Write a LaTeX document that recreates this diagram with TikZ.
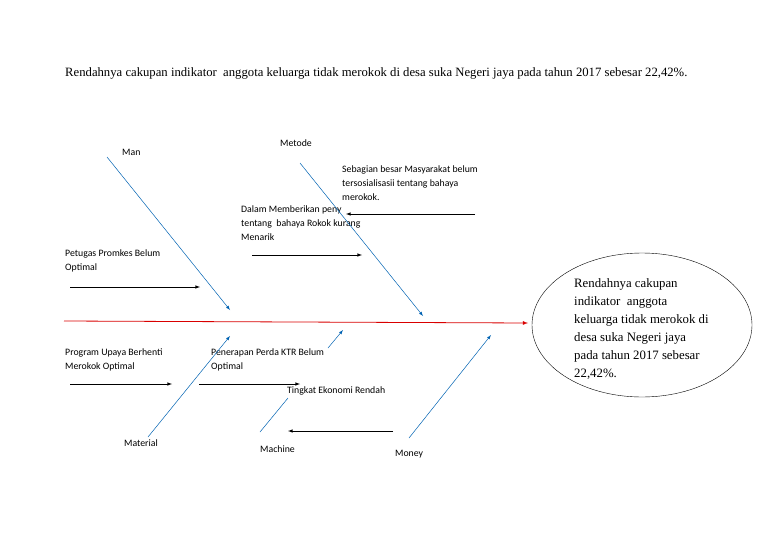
\documentclass[tikz,border=0pt]{standalone}
\usepackage{fontspec}
\usetikzlibrary{shapes.geometric}
\setmainfont{Liberation Serif}
\newfontfamily\lblfont{Carlito}
\begin{document}
\begin{tikzpicture}[x=1pt,y=-1pt,
  lbl/.style={anchor=west,inner sep=0pt,font=\lblfont\fontsize{9.8}{14}\selectfont,align=left},
  bone/.style={draw=blue!45!cyan!70!black,line width=0.5pt,-latex},
  cause/.style={draw=black,line width=0.6pt,-latex}]
\useasboundingbox (0,0) rectangle (768,543);
\node[anchor=west,inner sep=0pt,font=\fontsize{12.7}{14}\selectfont] (title) at (65,73) {Rendahnya cakupan indikator\ \ anggota keluarga tidak merokok di desa suka Negeri jaya pada tahun 2017 sebesar 22,42\%.};
\node[draw,ellipse,minimum width=220,minimum height=144,inner sep=0pt] (eff) at (642,325) {};
\node[anchor=north west,inner sep=0pt,align=left,font=\fontsize{12.8}{18}\selectfont] (efft) at (574,278) {Rendahnya cakupan\\indikator\ \ anggota\\keluarga tidak merokok di\\desa suka Negeri jaya\\pada tahun 2017 sebesar\\22,42\%.};
\coordinate (s) at (64,321);
\coordinate (h) at (528,323);
\draw[red!85!black,line width=0.8pt,-latex] (s) -- (h);
% labels
\node[lbl] (man) at (122,152) {Man};
\node[lbl] (met) at (280,143) {Metode};
\node[lbl] (mat) at (124,443) {Material};
\node[lbl] (mac) at (260,449) {Machine};
\node[lbl] (mon) at (395,454) {Money};
\node[lbl] (c1) at (65,261) {Petugas Promkes Belum\\Optimal};
\node[lbl] (c2) at (241,223) {Dalam Memberikan peny\\tentang\ \ bahaya Rokok kurang\\Menarik};
\node[lbl] (c3) at (342,183) {Sebagian besar Masyarakat belum\\tersosialisasii tentang bahaya\\merokok.};
\node[lbl] (c4) at (65,360) {Program Upaya Berhenti\\Merokok Optimal};
\node[lbl] (c5) at (211,360) {Penerapan Perda KTR Belum\\Optimal};
\node[lbl] (c6) at (287,391) {Tingkat Ekonomi Rendah};
% bones
\coordinate (b1a) at (107,157); \coordinate (b1b) at (230,310);
\coordinate (b2a) at (300,163); \coordinate (b2b) at (423,316);
\coordinate (b3a) at (148,437); \coordinate (b3b) at (230,336);
\coordinate (b4a) at (260,432); \coordinate (b4b) at (288,398);
\coordinate (b5a) at (328,348); \coordinate (b5b) at (343,330);
\coordinate (b6a) at (409,438); \coordinate (b6b) at (491,335);
\draw[bone] (b1a) -- (b1b);
\draw[bone] (b2a) -- (b2b);
\draw[bone] (b3a) -- (b3b);
\draw[bone,-] (b4a) -- (b4b);
\draw[bone] (b5a) -- (b5b);
\draw[bone] (b6a) -- (b6b);
% cause arrows
\coordinate (p1) at (70,287); \coordinate (q1) at (200,287);
\coordinate (p2) at (252,255); \coordinate (q2) at (362,255);
\coordinate (p3) at (475,214); \coordinate (q3) at (346,214);
\coordinate (p4) at (70,384); \coordinate (q4) at (172,384);
\coordinate (p5) at (199,384); \coordinate (q5) at (300,384);
\coordinate (p6) at (393,431); \coordinate (q6) at (288,431);
\foreach \i in {1,...,6} {\draw[cause] (p\i) -- (q\i);}
\end{tikzpicture}
\end{document}
